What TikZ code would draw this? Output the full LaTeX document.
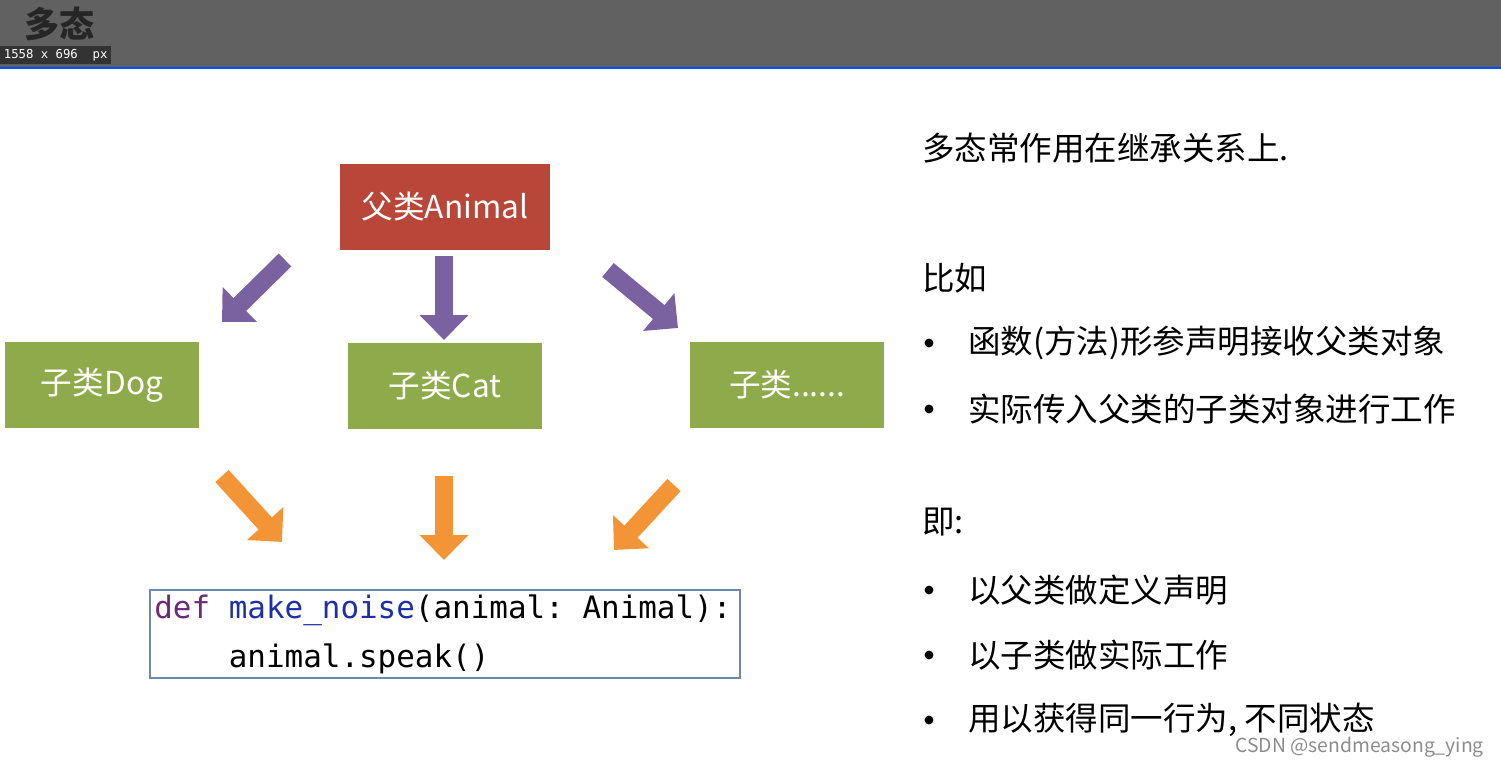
\documentclass[tikz,border=0pt]{standalone}
\usepackage{fontspec}
\setmainfont{Noto Sans CJK SC}
\setmonofont{DejaVu Sans Mono}
\usetikzlibrary{arrows.meta,positioning}
\definecolor{boxred}{HTML}{B8473A}
\definecolor{boxgreen}{HTML}{8FAA4A}
\definecolor{arrpurple}{HTML}{7A62A0}
\definecolor{arrorange}{HTML}{F39536}
\definecolor{codeblue}{HTML}{1F2FA8}
\definecolor{codepurple}{HTML}{6A2A7A}
\definecolor{codeframe}{HTML}{6F8AA8}
\begin{document}
\begin{tikzpicture}[
    x=0.02cm, y=-0.02cm,
    box/.style={rectangle, minimum height=1.72cm, minimum width=3.9cm, inner sep=0pt, text=white, font=\fontsize{18}{21}\selectfont},
    blockarrow/.style={line width=0.36cm, -{Triangle[width=0.95cm, length=0.5cm]}},
    bullet/.style={anchor=west, font=\fontsize{18.5}{21}\selectfont},
    dot/.style={circle, fill=black, inner sep=0pt, minimum size=5pt}
  ]
  \useasboundingbox (0,0) rectangle (1501,766);
  % Header
  \fill[black!62] (0,0) rectangle (1501,68);
  \draw[blue!70!cyan, line width=1.2pt] (0,68) -- (1501,68);
  \node[anchor=west, font=\bfseries\fontsize{20}{22}\selectfont, text=black!85] (title) at (18,24) {多态};
  \node[anchor=west, fill=black!80, text=white, inner sep=2pt, font=\ttfamily\fontsize{7}{8}\selectfont] (size) at (0,55) {1558 x 696~~px};
  % Blocks
  \node[box, fill=boxred, minimum width=4.22cm] (parent) at (445,207) {父类Animal};
  \node[box, fill=boxgreen] (dog) at (102,385) {子类Dog};
  \node[box, fill=boxgreen] (cat) at (445,386) {子类Cat};
  \node[box, fill=boxgreen] (more) at (787,385) {子类......};
  \node[draw=codeframe, thick, fill=white, minimum width=11.8cm, minimum height=1.76cm, inner sep=0pt] (code) at (445,634) {};
  \node[anchor=north west, align=left, inner sep=0pt, font=\ttfamily\fontsize{17.6}{28}\selectfont] (codetext) at (154,594)
    {\textcolor{codepurple}{def} \textcolor{codeblue}{make\_noise}(animal: Animal):\\
     \hphantom{def }animal.speak()};
  % Arrows
  \coordinate (p1s) at (285,260); \coordinate (p1e) at (222,322);
  \coordinate (p2s) at (444,256); \coordinate (p2e) at (444,340);
  \coordinate (p3s) at (608,270); \coordinate (p3e) at (678,328);
  \coordinate (o1s) at (222,476); \coordinate (o1e) at (282,542);
  \coordinate (o2s) at (444,476); \coordinate (o2e) at (444,560);
  \coordinate (o3s) at (674,485); \coordinate (o3e) at (614,550);
  \draw[blockarrow, arrpurple] (p1s) -- (p1e);
  \draw[blockarrow, arrpurple] (p2s) -- (p2e);
  \draw[blockarrow, arrpurple] (p3s) -- (p3e);
  \draw[blockarrow, arrorange] (o1s) -- (o1e);
  \draw[blockarrow, arrorange] (o2s) -- (o2e);
  \draw[blockarrow, arrorange] (o3s) -- (o3e);
  % Right text
  \node[bullet] (t1) at (916,148) {多态常作用在继承关系上.};
  \node[bullet] (t2) at (916,278) {比如};
  \node[bullet] (t5) at (916,522) {即:};
  \foreach \name/\y/\txt in {t3/343/函数(方法)形参声明接收父类对象, t4/409/实际传入父类的子类对象进行工作,
      t6/590/以父类做定义声明, t7/655/以子类做实际工作, t8/720/{用以获得同一行为, 不同状态}}{
    \node[dot] (\name dot) at (929,\y) {};
    \node[bullet] (\name) at (962,\y) {\txt};
  }
  \node[anchor=east, text=black!45, font=\fontsize{11}{13}\selectfont] (mark) at (1490,747) {CSDN @sendmeasong\_ying};
\end{tikzpicture}
\end{document}
